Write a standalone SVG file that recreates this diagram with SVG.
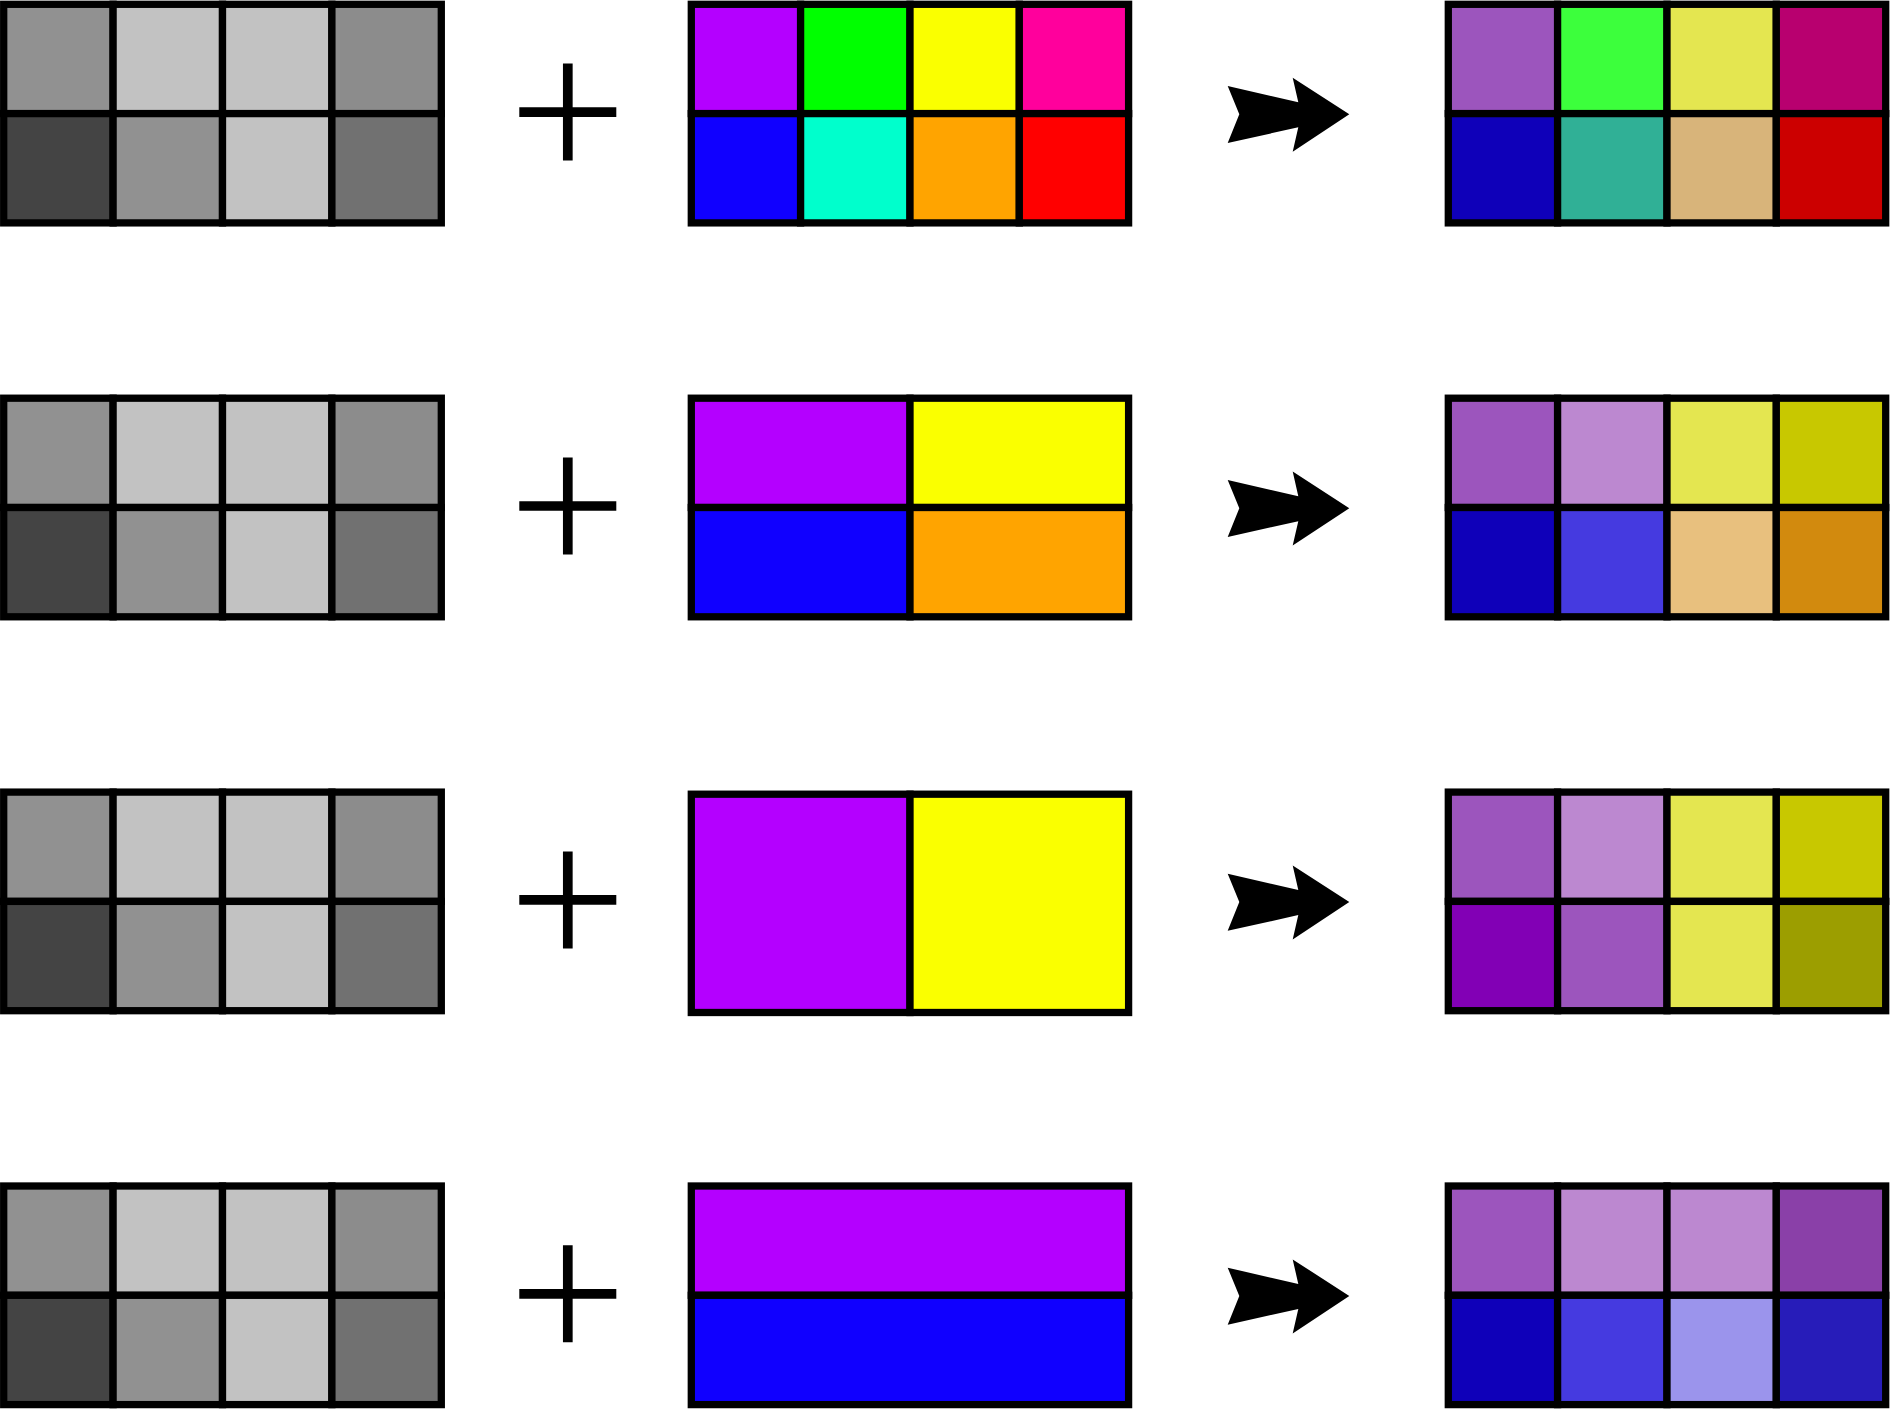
<svg xmlns="http://www.w3.org/2000/svg" xmlns:xlink="http://www.w3.org/1999/xlink" width="1890" height="1409" viewBox="0 0 1890 1409">
<style>
rect{stroke:#000;stroke-width:7.3}
.plus{stroke:#000;stroke-width:9.7;fill:none}
.arrow{fill:#000;stroke:none}
</style>
<defs>
<g id="gray">
<rect x="3.7" y="0" width="109.4" height="109.3" fill="#919191"/>
<rect x="113.1" y="0" width="109.4" height="109.3" fill="#c2c2c2"/>
<rect x="222.5" y="0" width="109.4" height="109.3" fill="#c2c2c2"/>
<rect x="331.9" y="0" width="109.4" height="109.3" fill="#8c8c8c"/>
<rect x="3.7" y="109.3" width="109.4" height="109.3" fill="#444444"/>
<rect x="113.1" y="109.3" width="109.4" height="109.3" fill="#919191"/>
<rect x="222.5" y="109.3" width="109.4" height="109.3" fill="#c2c2c2"/>
<rect x="331.9" y="109.3" width="109.4" height="109.3" fill="#717171"/>
</g>
<path id="plus" class="plus" d="M519.3,107.8 H616.3 M567.8,59.3 V156.3"/>
<path id="arrow" class="arrow" d="M1227.7,81.7 L1298.3,98 L1292.7,73.4 L1349.3,110 L1292.7,147.4 L1298.3,123 L1227.7,138.7 L1239.3,110 Z"/>
</defs>

<g id="input-gray-1"><use xlink:href="#gray" href="#gray" transform="translate(0,4.3)"/></g>
<g id="input-gray-2"><use xlink:href="#gray" href="#gray" transform="translate(0,398.2)"/></g>
<g id="input-gray-3"><use xlink:href="#gray" href="#gray" transform="translate(0,792.1)"/></g>
<g id="input-gray-4"><use xlink:href="#gray" href="#gray" transform="translate(0,1186)"/></g>

<g id="palette-1">
<rect x="691.3" y="4.3" width="109.3" height="109.3" fill="#b400ff"/>
<rect x="800.6" y="4.3" width="109.4" height="109.3" fill="#00ff00"/>
<rect x="910" y="4.3" width="109.3" height="109.3" fill="#faff00"/>
<rect x="1019.3" y="4.3" width="109.3" height="109.3" fill="#ff009c"/>
<rect x="691.3" y="113.6" width="109.3" height="109.3" fill="#1000ff"/>
<rect x="800.6" y="113.6" width="109.4" height="109.3" fill="#00ffcc"/>
<rect x="910" y="113.6" width="109.3" height="109.3" fill="#ffa400"/>
<rect x="1019.3" y="113.6" width="109.3" height="109.3" fill="#ff0000"/>
</g>
<g id="palette-2">
<rect x="691.3" y="398.2" width="218.7" height="109.3" fill="#b400ff"/>
<rect x="910" y="398.2" width="218.6" height="109.3" fill="#faff00"/>
<rect x="691.3" y="507.5" width="218.7" height="109.3" fill="#1000ff"/>
<rect x="910" y="507.5" width="218.6" height="109.3" fill="#ffa400"/>
</g>
<g id="palette-3">
<rect x="691.3" y="794.2" width="218.7" height="218.3" fill="#b400ff"/>
<rect x="910" y="794.2" width="218.6" height="218.3" fill="#faff00"/>
</g>
<g id="palette-4">
<rect x="691.3" y="1186" width="437.3" height="109.3" fill="#b400ff"/>
<rect x="691.3" y="1295.3" width="437.3" height="109.3" fill="#1000ff"/>
</g>

<g id="result-1">
<rect x="1448.3" y="4.3" width="109.3" height="109.3" fill="#9c55bd"/>
<rect x="1557.6" y="4.3" width="109.4" height="109.3" fill="#3cff3c"/>
<rect x="1667" y="4.3" width="109.3" height="109.3" fill="#e4e650"/>
<rect x="1776.3" y="4.3" width="109.4" height="109.3" fill="#b8006f"/>
<rect x="1448.3" y="113.6" width="109.3" height="109.3" fill="#0f00b9"/>
<rect x="1557.6" y="113.6" width="109.4" height="109.3" fill="#30b096"/>
<rect x="1667" y="113.6" width="109.3" height="109.3" fill="#d8b47a"/>
<rect x="1776.3" y="113.6" width="109.4" height="109.3" fill="#cc0000"/>
</g>
<g id="result-2">
<rect x="1448.3" y="398.2" width="109.3" height="109.3" fill="#9c55bd"/>
<rect x="1557.6" y="398.2" width="109.4" height="109.3" fill="#bc88d0"/>
<rect x="1667" y="398.2" width="109.3" height="109.3" fill="#e4e650"/>
<rect x="1776.3" y="398.2" width="109.4" height="109.3" fill="#c8c800"/>
<rect x="1448.3" y="507.5" width="109.3" height="109.3" fill="#0f00b9"/>
<rect x="1557.6" y="507.5" width="109.4" height="109.3" fill="#453ae0"/>
<rect x="1667" y="507.5" width="109.3" height="109.3" fill="#e8c07e"/>
<rect x="1776.3" y="507.5" width="109.4" height="109.3" fill="#d28a0e"/>
</g>
<g id="result-3">
<rect x="1448.3" y="792.1" width="109.3" height="109.3" fill="#9c55bd"/>
<rect x="1557.6" y="792.1" width="109.4" height="109.3" fill="#bc88d0"/>
<rect x="1667" y="792.1" width="109.3" height="109.3" fill="#e4e650"/>
<rect x="1776.3" y="792.1" width="109.4" height="109.3" fill="#c8c800"/>
<rect x="1448.3" y="901.4" width="109.3" height="109.3" fill="#8200b5"/>
<rect x="1557.6" y="901.4" width="109.4" height="109.3" fill="#9c55bd"/>
<rect x="1667" y="901.4" width="109.3" height="109.3" fill="#e4e650"/>
<rect x="1776.3" y="901.4" width="109.4" height="109.3" fill="#9c9e00"/>
</g>
<g id="result-4">
<rect x="1448.3" y="1186" width="109.3" height="109.3" fill="#9c55bd"/>
<rect x="1557.6" y="1186" width="109.4" height="109.3" fill="#bc88d0"/>
<rect x="1667" y="1186" width="109.3" height="109.3" fill="#bc88d0"/>
<rect x="1776.3" y="1186" width="109.4" height="109.3" fill="#8a40a8"/>
<rect x="1448.3" y="1295.3" width="109.3" height="109.3" fill="#0f00b9"/>
<rect x="1557.6" y="1295.3" width="109.4" height="109.3" fill="#453ae0"/>
<rect x="1667" y="1295.3" width="109.3" height="109.3" fill="#9b94ec"/>
<rect x="1776.3" y="1295.3" width="109.4" height="109.3" fill="#271cb9"/>
</g>

<g id="connectors">
<use xlink:href="#plus" href="#plus" transform="translate(0,4.3)"/>
<use xlink:href="#plus" href="#plus" transform="translate(0,398.2)"/>
<use xlink:href="#plus" href="#plus" transform="translate(0,792.1)"/>
<use xlink:href="#plus" href="#plus" transform="translate(0,1186)"/>
<use xlink:href="#arrow" href="#arrow" transform="translate(0,4.3)"/>
<use xlink:href="#arrow" href="#arrow" transform="translate(0,398.2)"/>
<use xlink:href="#arrow" href="#arrow" transform="translate(0,792.1)"/>
<use xlink:href="#arrow" href="#arrow" transform="translate(0,1186)"/>
</g>
</svg>
